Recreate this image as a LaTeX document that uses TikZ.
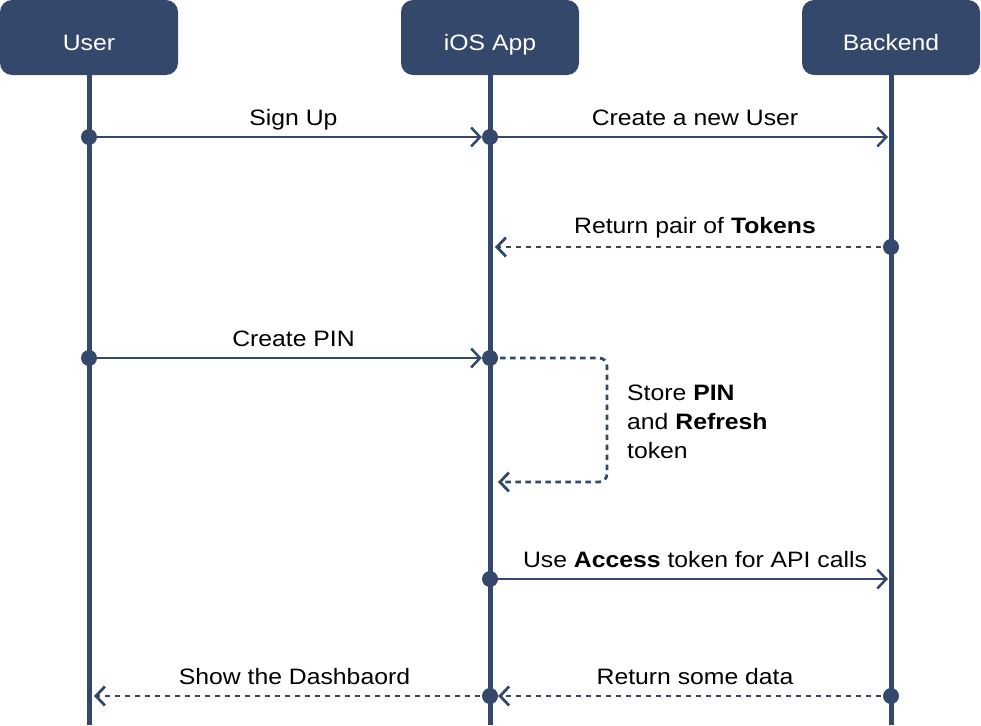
\documentclass[tikz,border=0pt]{standalone}
\usepackage{fontspec}
\setmainfont[FakeStretch=1.11]{Liberation Sans}
\usetikzlibrary{arrows.meta}
\definecolor{navy}{HTML}{33486A}
\begin{document}
\begin{tikzpicture}[x=1pt,y=-1pt,
  head/.style={fill=navy, rounded corners=12pt, minimum width=178pt, minimum height=75pt,
    text=white, font=\fontsize{22.3}{26}\selectfont, inner sep=0pt, text height=25pt, text depth=0pt},
  life/.style={draw=navy, line width=5pt},
  dot/.style={circle, fill=navy, inner sep=0pt, minimum size=16pt},
  msg/.style={draw=navy, line width=2.5pt, -{Straight Barb[length=9pt,width=19pt]}},
  ret/.style={msg, line width=2.8pt, dash pattern=on 5.5pt off 4.5pt},
  lbl/.style={font=\fontsize{22.3}{29}\selectfont, text=black, anchor=base, inner sep=0pt}]
\useasboundingbox (0,0) rectangle (981,725);
% heads
\node[head] (user) at (89,37.5) {User};
\node[head] (app) at (490,37.5) {iOS App};
\node[head] (back) at (891,37.5) {Backend};
\coordinate (userend) at (89,725);
\coordinate (append) at (490,725);
\coordinate (backend) at (891,725);
\draw[life] (user.south) -- (userend);
\draw[life] (app.south) -- (append);
\draw[life] (back.south) -- (backend);
% Sign Up
\node[dot] (u1) at (89,137) {};
\node[dot] (a1) at (490,137) {};
\coordinate (b1) at (888,137);
\draw[msg] (u1.center) -- (a1.west);
\node[lbl] (l1) at (293.5,125) {Sign Up};
\draw[msg] (a1.center) -- (b1);
\node[lbl] (l2) at (695,125) {Create a new User};
% Return tokens
\node[dot] (b2) at (891,247) {};
\coordinate (a2) at (495,247);
\draw[ret] (b2.center) -- (a2);
\node[lbl] (l3) at (695,233) {Return pair of \textbf{Tokens}};
% Create PIN
\node[dot] (u3) at (89,358) {};
\node[dot] (a3) at (490,358) {};
\draw[msg] (u3.center) -- (a3.west);
\node[lbl] (l4) at (293.5,346) {Create PIN};
% self loop
\coordinate (s1) at (607,358);
\coordinate (s2) at (607,482);
\coordinate (a4) at (498,482);
\draw[ret, rounded corners=8pt] (a3.center) -- (s1) -- (s2) -- (a4);
\node[lbl, anchor=base west] (l5) at (627,400) {Store \textbf{PIN}};
\node[lbl, anchor=base west] (l6) at (627,429) {and \textbf{Refresh}};
\node[lbl, anchor=base west] (l7) at (627,458) {token};
% Access token
\node[dot] (a5) at (490,579) {};
\coordinate (b5) at (888,579);
\draw[msg] (a5.center) -- (b5);
\node[lbl] (l8) at (695,567) {Use \textbf{Access} token for API calls};
% Return data
\node[dot] (b6) at (891,696) {};
\node[dot] (a6) at (490,696) {};
\coordinate (u6) at (94,696);
\draw[ret] (b6.center) -- (a6.east);
\node[lbl] (l9) at (695,684) {Return some data};
\draw[ret] (a6.center) -- (u6);
\node[lbl] (l10) at (294.5,684) {Show the Dashbaord};
\end{tikzpicture}
\end{document}
